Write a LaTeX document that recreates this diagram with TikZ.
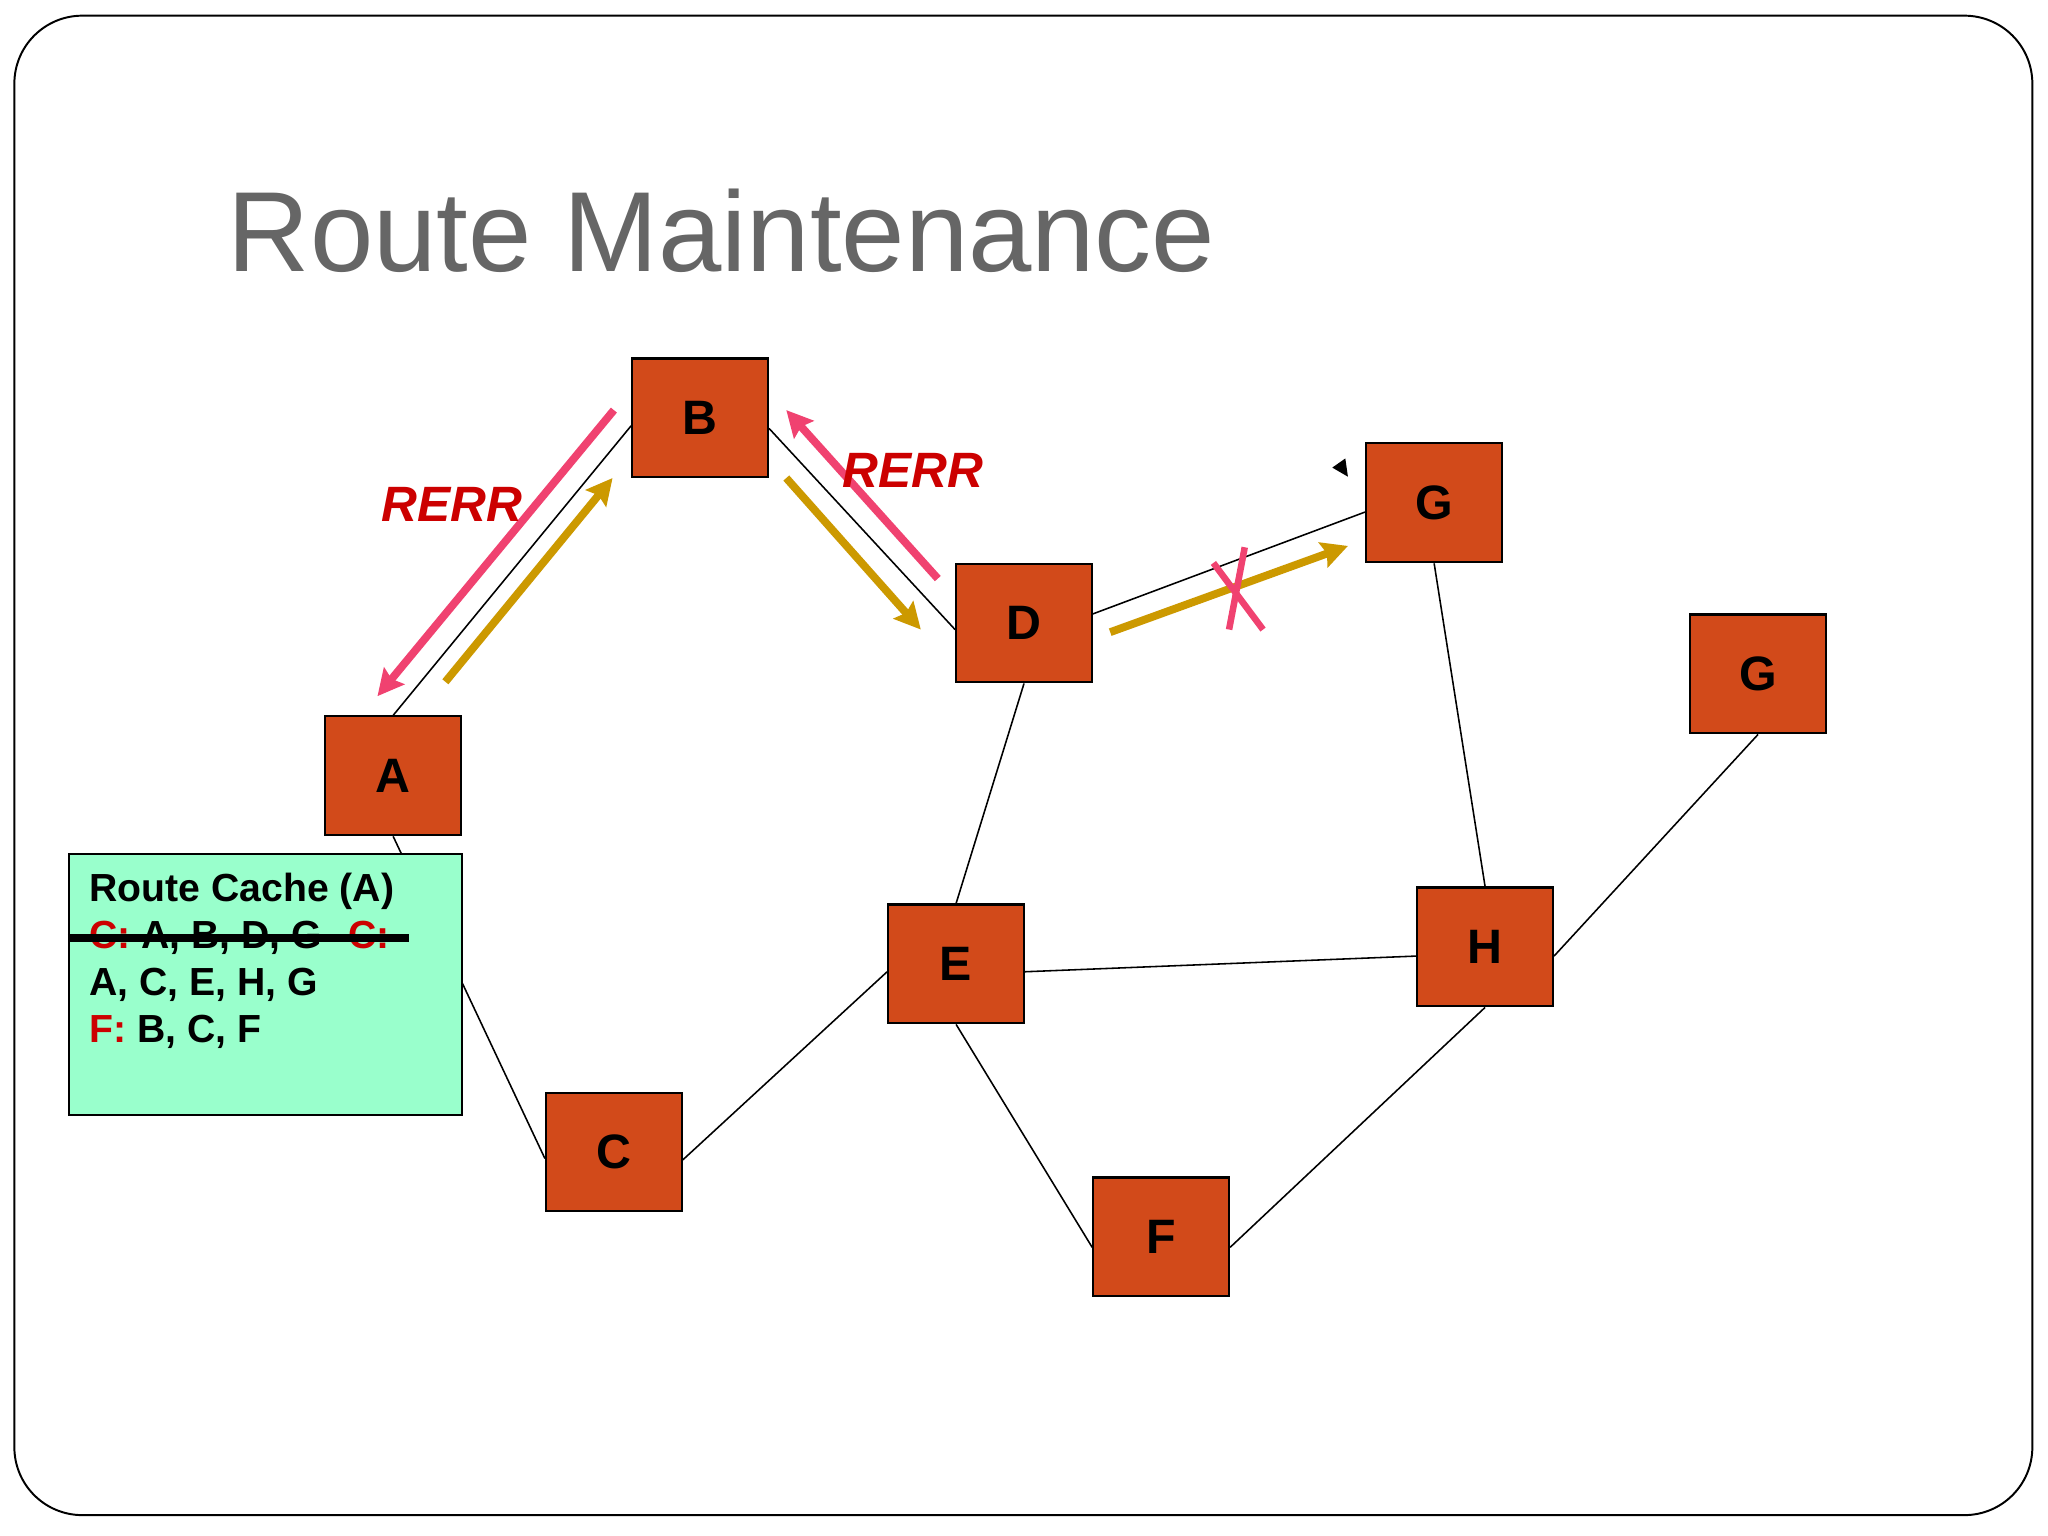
\documentclass[tikz,border=0pt]{standalone}
\usepackage{fontspec}
\setmainfont{Liberation Sans}
\usetikzlibrary{arrows.meta}
\definecolor{hostorange}{RGB}{210,74,26}
\definecolor{rerrpink}{RGB}{240,66,112}
\definecolor{fwdgold}{RGB}{204,153,0}
\definecolor{rerrred}{RGB}{204,0,0}
\definecolor{cachegreen}{RGB}{153,255,204}
\definecolor{titlegray}{RGB}{102,102,102}

\begin{document}
\begin{tikzpicture}[x=0.5pt, y=-0.5pt,
    host/.style={draw=black, line width=0.8pt, fill=hostorange, minimum width=52pt, minimum height=45.5pt, inner sep=0pt, font=\fontsize{18.5}{20}\selectfont\bfseries},
    link/.style={black, line width=0.6pt},
    fwd/.style={fwdgold, line width=3pt, -{Stealth[length=10pt, width=10pt, inset=1.5pt]}},
    rerr/.style={rerrpink, line width=3pt, -{Stealth[length=10pt, width=10pt, inset=1.5pt]}},
    rerr_label/.style={text=rerrred, inner sep=0pt, anchor=base west, font=\fontsize{19}{21}\selectfont\bfseries\itshape},
    cut/.style={rerrpink, line width=2.5pt},
    cache_text/.style={anchor=north west, inner sep=0pt, align=left, font=\fontsize{15}{18}\selectfont\bfseries}
]
    \useasboundingbox[fill=white] (0,0) rectangle (1568,1176);
    \draw[line width=0.75pt, rounded corners=26pt] (11,12) rectangle (1556,1160);
    \node[anchor=base west, inner sep=0pt, text=titlegray, font=\fontsize{43.6}{50}\selectfont] (title) at (174,208) {Route Maintenance};
    % Knoten
    \node[host] (A) at (301,594) {A};
    \node[host] (B) at (536,320) {B};
    \node[host] (C) at (470,882) {C};
    \node[host] (D) at (784,477) {D};
    \node[host] (E) at (732,738) {E};
    \node[host] (F) at (889,947) {F};
    \node[host] (Gt) at (1098,385) {G};
    \node[host] (Gr) at (1346,516) {G};
    \node[host] (H) at (1137,725) {H};
    % Verbindungen
    \draw[link] (A.north) -- ([yshift=-3pt]B.west);
    \draw[link] ([yshift=-4pt]B.east) -- ([yshift=-2.5pt]D.west);
    \draw[link] ([yshift=3.5pt]D.east) -- ([yshift=-3.5pt]Gt.west);
    \draw[link] (Gt.south) -- (H.north);
    \draw[link] ([yshift=-3.5pt]H.east) -- (Gr.south);
    \draw[link] (D.south) -- (E.north);
    \draw[link] ([yshift=-3pt]E.east) -- ([yshift=-3.5pt]H.west);
    \draw[link] (E.south) -- ([yshift=-4pt]F.west);
    \draw[link] ([yshift=-4pt]F.east) -- (H.south);
    \draw[link] ([yshift=-3pt]C.east) -- ([yshift=-3pt]E.west);
    \draw[link] (A.south) -- ([yshift=-2.5pt]C.west);
    % Route Cache
    \node[draw=black, line width=0.8pt, fill=cachegreen, minimum width=150.5pt, minimum height=100pt, inner sep=0pt, anchor=north west] (cache) at (52,653) {};
    \node[cache_text] (cachetext) at (68,668) {Route Cache (A)\\
        {\color{rerrred}C:} A, B, D, G\hspace{10pt}{\color{rerrred}C:}\\
        A, C, E, H, G\\
        {\color{rerrred}F:} B, C, F};
    \draw[line width=3pt] (52,718) -- (313,718);
    % Pfeile
    \coordinate (ab_s) at (341,522); \coordinate (ab_e) at (469,366);
    \coordinate (bd_s) at (602,366); \coordinate (bd_e) at (705,482);
    \coordinate (dg_s) at (850,484); \coordinate (dg_e) at (1032,418);
    \coordinate (ba_s) at (470,314); \coordinate (ba_e) at (289,533);
    \coordinate (db_s) at (718,443); \coordinate (db_e) at (602,314);
    \draw[fwd] (ab_s) -- (ab_e);
    \draw[fwd] (bd_s) -- (bd_e);
    \draw[fwd] (dg_s) -- (dg_e);
    \draw[rerr] (ba_s) -- (ba_e);
    \draw[rerr] (db_s) -- (db_e);
    % Bruch D-G
    \draw[cut] (929,431) -- (967,482);
    \draw[cut] (953,419) -- (941,482);
    \fill (1020,358) -- (1030,351) -- (1032,365) -- cycle;
    \node[rerr_label] (rerr1) at (292,399) {RERR};
    \node[rerr_label] (rerr2) at (645,373) {RERR};
\end{tikzpicture}
\end{document}
